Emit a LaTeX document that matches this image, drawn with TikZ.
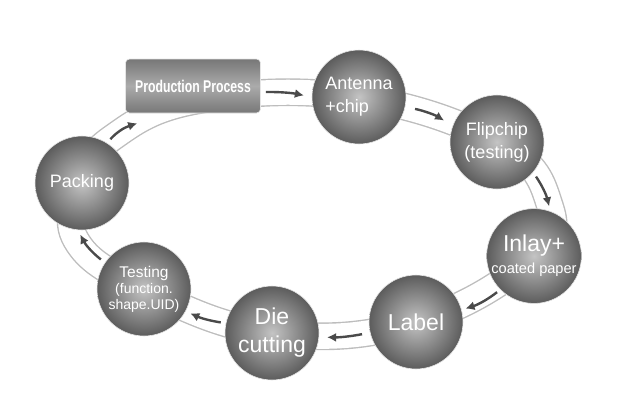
\documentclass[tikz,border=0pt]{standalone}
\usepackage{fontspec}
\setmainfont{Liberation Sans}
\newfontfamily\boxfont[FakeStretch=0.72]{Liberation Sans}
\usetikzlibrary{arrows.meta,shapes}
\definecolor{ballin}{HTML}{C4C4C4}
\definecolor{ballout}{HTML}{5C5C5C}
\definecolor{boxmid}{HTML}{ABABAB}
\definecolor{boxedge}{HTML}{777777}
\definecolor{trackline}{HTML}{BDBDBD}
\definecolor{flowgray}{HTML}{4A4A4A}
\tikzset{basic/.style={draw=white!80!gray,line width=0.6pt,
                       text=white,align=center}}
\tikzset{ball/.style={basic,circle,minimum size=94pt,inner sep=0pt,
                      inner color=ballin,outer color=ballout,
                      font=\fontsize{18}{23}\selectfont}}
\tikzset{bigball/.style={ball,font=\fontsize{23}{28}\selectfont}}
\tikzset{process/.style={basic,rectangle,rounded corners=4pt,
                         minimum width=135pt,minimum height=54pt,
                         top color=boxedge,bottom color=boxedge,middle color=boxmid,
                         font=\boxfont\bfseries\fontsize{17}{20}\selectfont}}
\tikzset{flow/.style={draw=flowgray,line width=2.4pt,
                      -{Latex[length=9pt,width=9pt]},
                      shorten <=5pt,shorten >=5pt}}

\begin{document}
\begin{tikzpicture}[x=1pt,y=-1pt]
    \useasboundingbox (0,0) rectangle (642,405);
    % track
    \draw[trackline,line width=1.4pt,double=white,double distance=25pt]
        plot[smooth cycle,tension=0.7] coordinates {(82,183) (112,138) (200,100)
        (355,97) (497,142) (548,200) (534,256) (416,322) (272,333) (144,289) (76,240)};
    % stations
    \node[process] (prod) at (193,86) {Production Process};
    \node[ball,align=left] (ant) at (359,97) {Antenna\\+chip};
    \node[ball] (flip) at (497,142) {Flipchip\\(testing)};
    \node[bigball] (inlay) at (534,256)
        {Inlay+\\[-6pt]{\fontsize{14.6}{17}\selectfont coated paper}};
    \node[bigball] (label) at (416,322) {Label};
    \node[bigball] (die) at (272,333) {Die\\cutting};
    \node[ball,font=\fontsize{15.5}{16}\selectfont] (test) at (144,289)
        {Testing\\{\fontsize{14}{16}\selectfont (function.}\\{\fontsize{14}{16}\selectfont shape.UID)}};
    \node[ball] (pack) at (82,183) {Packing};
    % flow
    \draw[flow,shorten >=8pt] ([yshift=-6pt]prod.east) to[bend left=6] (ant.west);
    \draw[flow,shorten <=10pt,shorten >=10pt] (ant.-12) to[bend left=10] (flip.160);
    \draw[flow] (flip.-40) to[bend left=10] (inlay.70);
    \draw[flow,shorten <=4pt,shorten >=4pt] (inlay.225) to[bend left=10] (label.15);
    \draw[flow,shorten <=8pt,shorten >=8pt] (label.193) to[bend left=6] (die.-5);
    \draw[flow] (die.168) to[bend left=8] (test.-28);
    \draw[flow] (test.146) to[bend left=12] (pack.-95);
    \draw[flow,shorten >=0pt] (pack.58) to[bend left=15] ([xshift=12pt,yshift=-10pt]prod.south west);
\end{tikzpicture}
\end{document}
